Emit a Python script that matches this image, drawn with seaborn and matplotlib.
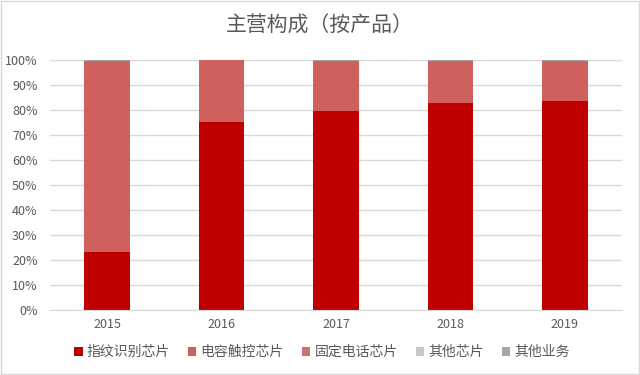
import numpy as np
import pandas as pd
import matplotlib
matplotlib.use('Agg')
import matplotlib.pyplot as plt
import seaborn as sns
from matplotlib.patches import Rectangle, Patch
from matplotlib.ticker import PercentFormatter

# Data (share of revenue, %)
years = ['2015', '2016', '2017', '2018', '2019']
series_names = ['指纹识别芯片', '电容触控芯片', '固定电话芯片', '其他芯片', '其他业务']
fingerprint = [23.2, 75.2, 79.6, 82.8, 83.8]
capacitive = [76.3, 24.6, 20.2, 16.7, 15.7]
fixed_phone = [0.0, 0.0, 0.0, 0.0, 0.0]
other_chips = [0.0, 0.0, 0.0, 0.0, 0.0]
other_biz = [0.5, 0.2, 0.2, 0.5, 0.5]
colors = ['#C00000', '#D0605E', '#C97373', '#C8C8C8', '#A6A6A6']

sns.set_style('white')
plt.rcParams['font.family'] = ['Noto Sans CJK SC', 'DejaVu Sans']

df = pd.DataFrame({'year': years, series_names[0]: fingerprint, series_names[1]: capacitive,
                   series_names[2]: fixed_phone, series_names[3]: other_chips, series_names[4]: other_biz})
cum = df[series_names].cumsum(axis=1)

fig = plt.figure(figsize=(6.4, 3.75), dpi=100)
ax = fig.add_axes([50 / 640, 65 / 375, 572 / 640, 250 / 375])

# draw cumulative totals from top series down so each visible slice is its own series
for name, col in reversed(list(zip(series_names, colors))):
    sns.barplot(x=df['year'], y=cum[name], color=col, width=0.4, ax=ax,
                saturation=1, linewidth=0, zorder=2)

ax.set_ylim(0, 100)
ax.set_xlim(-0.5, 4.5)
ax.set_yticks(np.arange(0, 101, 10))
ax.yaxis.set_major_formatter(PercentFormatter(decimals=0))
ax.grid(axis='y', color='#D9D9D9', linewidth=1, zorder=0)
ax.set_axisbelow(True)
ax.set_xlabel('')
ax.set_ylabel('')
for s in ['top', 'right', 'left']:
    ax.spines[s].set_visible(False)
ax.spines['bottom'].set_color('#D9D9D9')
ax.tick_params(axis='both', colors='#595959', labelsize=9, length=0)
ax.tick_params(axis='y', pad=9)
ax.tick_params(axis='x', pad=6)
ax.set_xticks(np.arange(-0.5, 5, 1), minor=True)
ax.tick_params(axis='x', which='minor', length=4, color='#D9D9D9')

fig.text(0.5, 1 - 26 / 375, '主营构成（按产品）', ha='center', va='center', fontsize=15, color='#595959')

handles = [Patch(facecolor=c, edgecolor='none') for c in colors]
fig.legend(handles, series_names, loc='center', bbox_to_anchor=(502 / 640 - 0.5 + 0.5 - 180 / 640, 1 - 352 / 375), ncol=5,
           frameon=False, fontsize=10, handlelength=0.6, handleheight=0.6, handletextpad=0.3,
           columnspacing=1.3, labelcolor='#595959')

fig.add_artist(Rectangle((0.001, 0.002), 0.997, 0.995, transform=fig.transFigure, fill=False,
                         edgecolor='#D9D9D9', linewidth=1))

fig.savefig('out.png', dpi=100)
